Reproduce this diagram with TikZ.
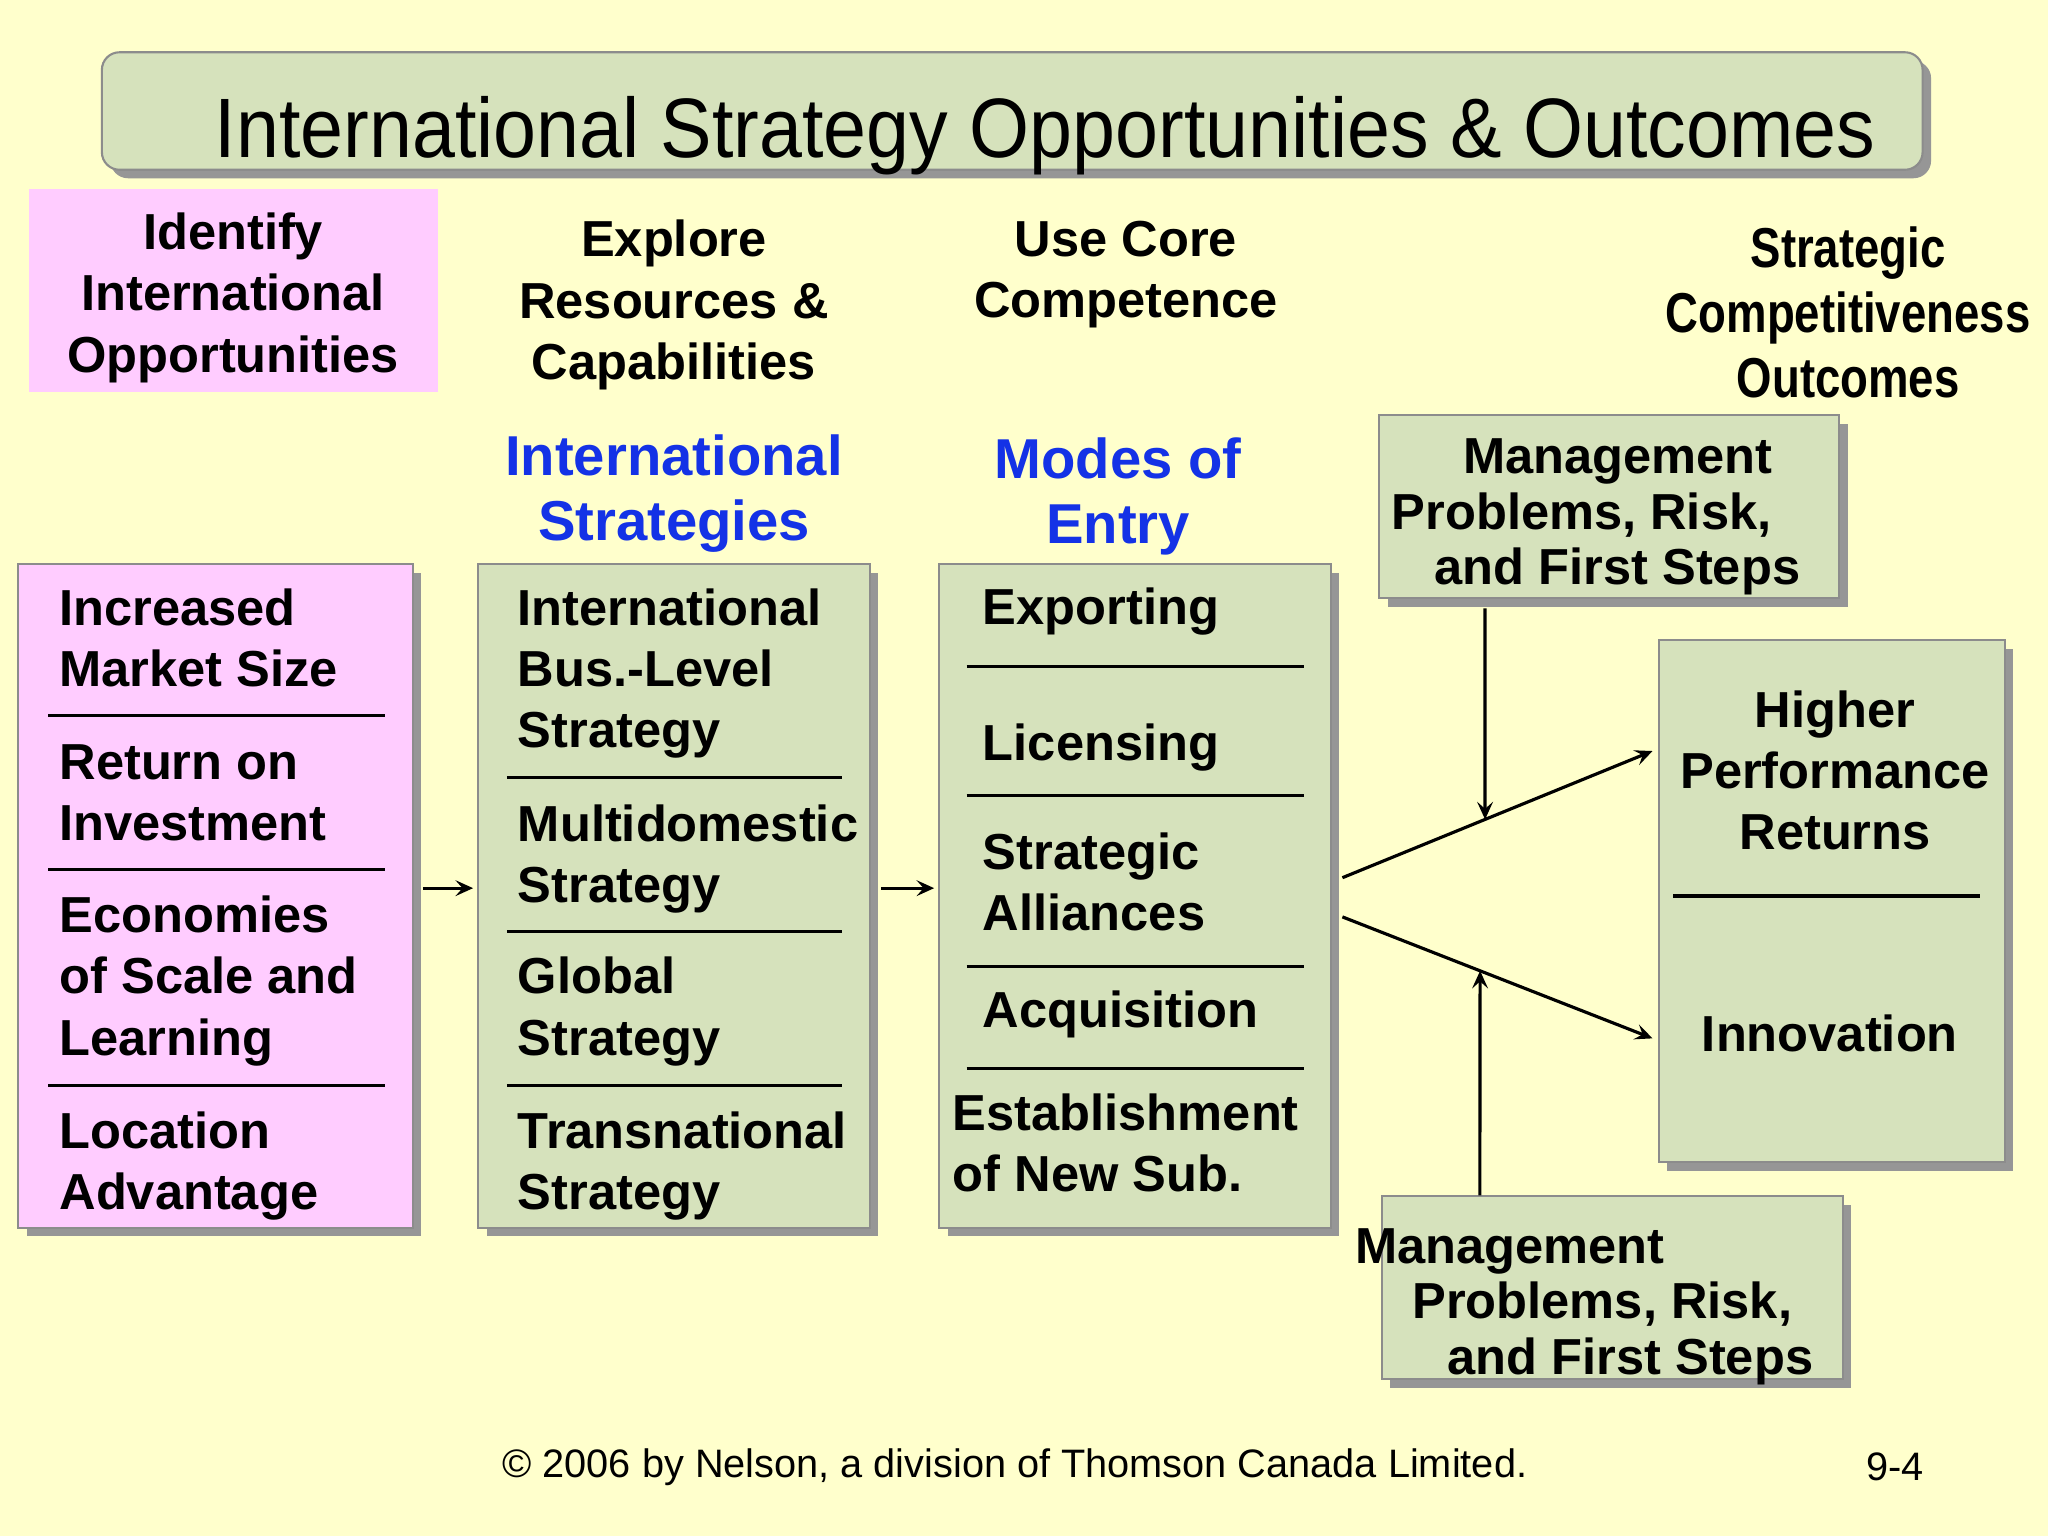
\documentclass[tikz,border=0pt]{standalone}
\usepackage{fontspec}
\setmainfont{Liberation Sans}
\newfontfamily\narrowfont[FakeStretch=0.81]{Liberation Sans}
\newfontfamily\titlefont[FakeStretch=0.915]{Liberation Sans}
\usetikzlibrary{calc,shadows,arrows.meta}
\definecolor{bgyellow}{RGB}{255,255,204}
\definecolor{pinkfill}{RGB}{255,204,255}
\definecolor{greenfill}{RGB}{214,226,188}
\definecolor{headblue}{RGB}{20,50,230}
\definecolor{boxline}{RGB}{140,140,140}
\definecolor{shadowgray}{RGB}{150,150,150}

\begin{document}
\begin{tikzpicture}[x=0.0130612cm,y=-0.0130612cm,
  txt/.style={font=\bfseries\fontsize{14.4}{17.4}\selectfont,inner sep=0pt,align=left,anchor=west},
  head/.style={font=\bfseries\fontsize{14.4}{17.4}\selectfont,inner sep=0pt,align=center},
  bluehead/.style={font=\bfseries\fontsize{16}{18.6}\selectfont,text=headblue,inner sep=0pt,align=center},
  box/.style={draw=boxline,line width=0.6pt,fill=greenfill,
    drop shadow={shadow xshift=0.085cm,shadow yshift=-0.085cm,fill=shadowgray,opacity=1}},
  sep/.style={line width=0.9pt},
  arr/.style={-{Stealth[length=5pt,width=4.5pt,inset=2pt]},line width=0.9pt}]
  \fill[bgyellow] (0,0) rectangle (1568,1176); % background
  \useasboundingbox (0,0) rectangle (1568,1176);

  % title
  \node[box,rounded corners=5pt,minimum width=18.207cm,minimum height=1.175cm] (titlebox) at (775,85) {};
  \node[font=\titlefont\fontsize{24}{28}\selectfont,inner sep=0pt] (title) at (800,104)
    {International Strategy Opportunities \& Outcomes};

  % column heads
  \node[head,fill=pinkfill,minimum width=4.088cm,minimum height=2.024cm] (identify) at (178.5,222.5) {};
  \node[head] (identtext) at (178.5,228) {Identify\\International\\Opportunities};
  \node[head] (explore) at (516,233.5) {Explore\\Resources \&\\Capabilities};
  \node[head] (usecore) at (862,210.5) {Use Core\\Competence};
  \node[head,font=\narrowfont\bfseries\fontsize{16}{18.5}\selectfont] (outhead) at (1415,239)
    {Strategic\\Competitiveness\\Outcomes};
  \node[bluehead] (intstrat) at (516,378) {International\\Strategies};
  \node[bluehead] (modes) at (856,380) {Modes of\\Entry};

  % boxes
  \node[box,fill=pinkfill,minimum width=3.944cm,minimum height=6.635cm] (opps) at (165,686) {};
  \node[box,minimum width=3.918cm,minimum height=6.635cm] (strat) at (516,686) {};
  \node[box,minimum width=3.918cm,minimum height=6.635cm] (entry) at (869,686) {};
  \node[box,minimum width=4.598cm,minimum height=1.829cm] (mgtop) at (1232,388) {};
  \node[box,minimum width=4.611cm,minimum height=1.829cm] (mgbot) at (1234.5,986) {};
  \node[box,minimum width=3.461cm,minimum height=5.224cm] (outc) at (1402.5,690) {};

  % opportunities
  \node[txt] (mkt) at (45,488.5) {Increased\\Market Size};
  \node[txt] (roi) at (45,607) {Return on\\Investment};
  \node[txt] (eco) at (45,751) {Economies\\of Scale and\\Learning};
  \node[txt] (loc) at (45,892.5) {Location\\Advantage};
  \foreach \y in {548,666,831} \draw[sep] (37,\y) -- (295,\y);

  % strategies
  \node[txt] (bus) at (396,515.5) {International\\Bus.-Level\\Strategy};
  \node[txt] (multi) at (396,657.5) {Multidomestic\\Strategy};
  \node[txt] (glob) at (396,774.5) {Global\\Strategy};
  \node[txt] (trans) at (396,892.5) {Transnational\\Strategy};
  \foreach \y in {595,713,831} \draw[sep] (388,\y) -- (645,\y);

  % modes of entry
  \node[txt] (exp) at (752,468) {Exporting};
  \node[txt] (lic) at (752,572) {Licensing};
  \node[txt] (alli) at (752,675) {Strategic\\Alliances};
  \node[txt] (acq) at (752,776.5) {Acquisition};
  \node[txt] (newsub) at (729,875) {Establishment\\of New Sub.};
  \foreach \y in {510,609,740,818} \draw[sep] (740,\y) -- (998,\y);

  % management problems
  \node[txt,font=\bfseries\fontsize{14.4}{15.8}\selectfont] (mgtext1) at (1065,396)
    {\hspace*{20.4pt}Management\\Problems, Risk,\\\hspace*{12.2pt}and First Steps};
  \node[txt,font=\bfseries\fontsize{14.4}{15.8}\selectfont] (mgtext2) at (1037,1000.5)
    {Management\\\hspace*{16.3pt}Problems, Risk,\\\hspace*{26.3pt}and First Steps};

  % outcomes
  \node[head] (higher) at (1405,590) {Higher\\Performance\\Returns};
  \node[head] (innov) at (1401,791) {Innovation};
  \draw[sep] (1281,686) -- (1516,686);

  % arrows
  \draw[arr] ($(opps.east)+(7,-6)$) -- ($(strat.west)+(-3,-6)$);
  \draw[arr] ($(strat.east)+(8,-6)$) -- ($(entry.west)+(-3,-6)$);
  \coordinate (u0) at ($(entry.east)+(8,-14)$);
  \coordinate (u1) at ($(outc.west)+(-4,-115)$);
  \coordinate (d0) at ($(entry.east)+(8,16)$);
  \coordinate (d1) at ($(outc.west)+(-4,105)$);
  \draw[arr] (u0) -- (u1);
  \draw[arr] (d0) -- (d1);
  \draw[arr] ($(mgtop.south)+(-95,7)$) -- ($(u0)!0.46!(u1)$);
  \draw[arr] ($(mgbot.north)+(-101.5,0)$) -- ($(d0)!0.444!(d1)$);

  % footer
  \node[font=\fontsize{11.3}{13}\selectfont,inner sep=0pt] (copy) at (777,1123)
    {© 2006 by Nelson, a division of Thomson Canada Limited.};
  \node[font=\fontsize{11.3}{13}\selectfont,inner sep=0pt] (pageno) at (1451,1123) {9-4};
\end{tikzpicture}
\end{document}
